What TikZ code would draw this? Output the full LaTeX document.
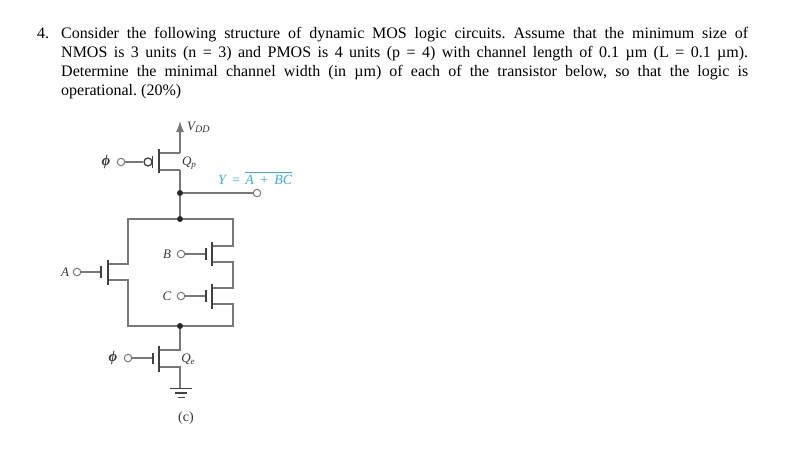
\documentclass[tikz,border=0pt]{standalone}
\usepackage{fontspec}
\usetikzlibrary{arrows.meta}
\setmainfont{Liberation Serif}
\definecolor{wire}{RGB}{120,120,120}
\definecolor{barc}{RGB}{65,65,65}
\definecolor{lab}{RGB}{55,55,55}
\definecolor{cyanlab}{RGB}{60,175,215}
\tikzset{x=1pt,y=-1pt,
 wireline/.style={draw=wire,line width=1.1pt},
 chan/.style={draw=barc,line width=2pt},
 gatebar/.style={draw=barc,line width=1.8pt},
 term/.style={circle,draw=wire,fill=white,line width=1pt,minimum size=7.5pt,inner sep=0pt},
 bub/.style={circle,draw=barc,fill=white,line width=1.3pt,minimum size=8pt,inner sep=0pt},
 jdot/.style={circle,fill=black!85,minimum size=6pt,inner sep=0pt},
 lbl/.style={text=lab,font=\itshape\fontsize{13}{15}\selectfont,inner sep=0pt},
 para/.style={anchor=base west,inner sep=0pt,font=\fontsize{16}{18}\selectfont\frenchspacing,text=black}}
\newcommand{\fullline}[1]{\makebox[687pt][s]{#1}}
\begin{document}
\begin{tikzpicture}
\useasboundingbox (0,0) rectangle (794,475);
% question text, justified lines
\node[para] (num) at (37,38.5) {4.};
\node[para] (l1) at (61,38.5) {\fullline{Consider the following structure of dynamic MOS logic circuits. Assume that the minimum size of}};
\node[para] (l2) at (61,57.5) {\fullline{NMOS is 3 units (n = 3) and PMOS is 4 units (p = 4) with channel length of 0.1 µm (L = 0.1 µm).}};
\node[para] (l3) at (61,76) {\fullline{Determine the minimal channel width (in µm) of each of the transistor below, so that the logic is}};
\node[para] (l4) at (61,95) {operational. (20\%)};
% nodes
\coordinate (vddtip) at (180,121);
\coordinate (pd) at (180,153);
\coordinate (ps) at (180,170);
\node[jdot] (out) at (180,193) {};
\node[jdot] (top) at (180,219) {};
\node[jdot] (bot) at (180,326) {};
\node[term] (yt) at (257,193) {};
\node[term] (phip) at (121,162) {};
\node[bub] (pb) at (148,162) {};
\node[term] (at) at (77,272) {};
\node[term] (bt) at (181,254) {};
\node[term] (ct) at (181,296) {};
\node[term] (phin) at (128,358) {};
\coordinate (nd) at (180,350);
\coordinate (ns) at (180,367);
\coordinate (gnd) at (180,388);
% labels
\node[lbl,anchor=west] (vdd) at (187,127) {V\raisebox{-2pt}{\fontsize{10}{10}\selectfont DD}};
\node[lbl] (qp) at (189,163) {Q\raisebox{-2pt}{\fontsize{9}{10}\selectfont p}};
\node[lbl] (qe) at (188,359) {Q\raisebox{-2pt}{\fontsize{9}{10}\selectfont e}};
\node[lbl,text=cyanlab,anchor=west,font=\itshape\fontsize{14}{16}\selectfont] (y) at (218,178) {Y\hspace{2pt} = \hspace{1pt}$\overline{\rule{0pt}{10.5pt}\mbox{\itshape A\hspace{2pt} + \hspace{2pt}BC}}$};
\node[lbl,font=\bfseries\itshape\fontsize{15}{16}\selectfont] (pl1) at (106,162) {ϕ};
\node[lbl,font=\bfseries\itshape\fontsize{15}{16}\selectfont] (pl2) at (113,358) {ϕ};
\node[lbl] (bl) at (167,254) {B};
\node[lbl] (cl) at (167,296) {C};
\node[lbl] (al) at (65,272) {A};
\node[lbl,font=\fontsize{14}{16}\selectfont] (cap) at (186,418) {(c)};
% PMOS
\draw[wireline,-{Latex[length=11pt,width=8pt]}] (pd) -- (vddtip);
\draw[wireline] (pd) -- (159,153) (ps) -- (159,170) (ps) -- (out) -- (top);
\draw[chan] (159,149) -- (159,173);
\draw[gatebar] (152.5,156) -- (152.5,168);
\draw[wireline] (phip) -- (pb);
\draw[wireline] (out) -- (yt);
% network
\draw[wireline] (108,264) -- (128,264) -- (128,219) -- (top) -- (233,219) -- (233,246) -- (212,246);
\draw[wireline] (108,280) -- (128,280) -- (128,326) -- (bot) -- (233,326) -- (233,304) -- (212,304);
\draw[wireline] (212,262) -- (233,262) -- (233,288) -- (212,288);
\draw[wireline] (at) -- (101,272) (bt) -- (206,254) (ct) -- (206,296);
\draw[chan] (108,260) -- (108,285) (212,242) -- (212,266) (212,284) -- (212,309);
\draw[gatebar] (101,266) -- (101,278) (206,248) -- (206,260) (206,290) -- (206,302);
% evaluation NMOS
\draw[wireline] (bot) -- (nd) -- (159,350) (159,367) -- (ns) -- (gnd);
\draw[chan] (159,346) -- (159,372);
\draw[wireline] (phin) -- (153,358);
\draw[gatebar] (153,353) -- (153,364);
\draw[draw=barc,line width=1.6pt] (170,388.5) -- (192,388.5) (175,393) -- (187,393) (177.5,397.5) -- (184.5,397.5);
\end{tikzpicture}
\end{document}
